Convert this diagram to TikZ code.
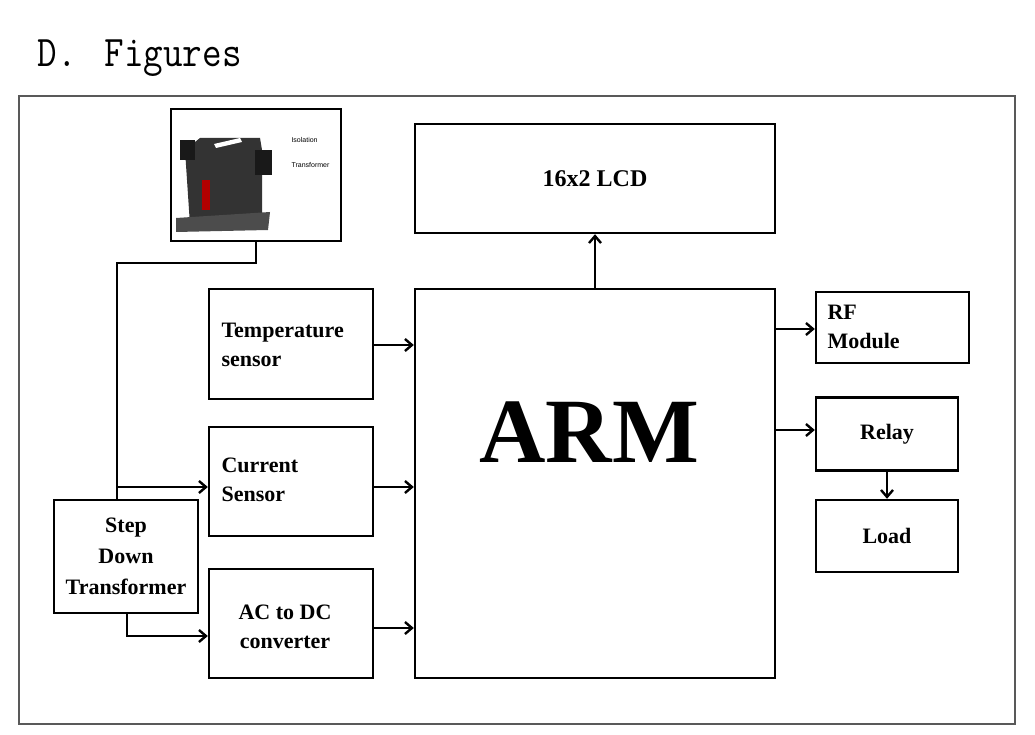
\documentclass[tikz,border=0pt]{standalone}
\usepackage{fontspec}
\setmainfont{Liberation Serif}
\newfontfamily\sansf{Liberation Sans}
\usetikzlibrary{arrows.meta}
\begin{document}
\begin{tikzpicture}[x=1pt,y=-1pt,
  blk/.style={draw,line width=2.4pt},
  lab/.style={font=\bfseries\fontsize{22}{29}\selectfont,align=left},
  arr/.style={line width=2.4pt,-{Straight Barb[length=7pt,width=12pt]}},
  wire/.style={line width=2.4pt}]
\useasboundingbox (0,0) rectangle (1035,735);
\node[anchor=west,font=\ttfamily\fontsize{38}{40}\selectfont,yscale=1.15] (title) at (34,58) {D.\hspace{28pt}Figures};
\draw[line width=1.2pt,gray!70!black] (19,96) rectangle (1015,724);
% isolation transformer picture
\draw[blk] (171,109) rectangle (341,241);
\coordinate (iso) at (256,241);
\fill[black!80] (185,150) -- (200,138) -- (260,138) -- (262,150) -- (262,225) -- (190,225) -- cycle;
\fill[black!90] (180,140) rectangle (195,160);
\fill[black!90] (255,150) rectangle (272,175);
\fill[black!70] (176,218) -- (270,212) -- (268,230) -- (176,232) -- cycle;
\fill[red!70!black] (202,180) rectangle (210,210);
\fill[white] (214,144) -- (240,138) -- (242,142) -- (216,148) -- cycle;
\node[font=\sansf\fontsize{7}{8}\selectfont,anchor=west] (isot1) at (288,140) {Isolation};
\node[font=\sansf\fontsize{7}{8}\selectfont,anchor=west] (isot2) at (288,165) {Transformer};
% blocks
\node[blk,minimum width=360pt,minimum height=109pt,font=\bfseries\fontsize{24}{28}\selectfont] (lcd) at (595,178.5) {16x2 LCD};
\node[blk,minimum width=360pt,minimum height=389pt] (arm) at (595,483.5) {};
\node[font=\bfseries\fontsize{92}{94}\selectfont] (armt) at (589,432) {ARM};
\node[blk,minimum width=164pt,minimum height=110pt] (temp) at (291,344) {};
\node[lab,anchor=west] (tempt) at (218,345) {Temperature\\sensor};
\node[blk,minimum width=164pt,minimum height=109pt] (cur) at (291,481.5) {};
\node[lab,anchor=west] (curt) at (218,480) {Current\\Sensor};
\node[blk,minimum width=164pt,minimum height=109pt] (acdc) at (291,623.5) {};
\node[lab,align=center] (acdct) at (285,627) {AC to DC\\converter};
\node[blk,minimum width=144pt,minimum height=113pt,inner sep=0pt,align=center,font=\bfseries\fontsize{22}{31}\selectfont] (step) at (126,556.5) {Step\\Down\\Transformer};
\node[blk,minimum width=153pt,minimum height=71pt] (rf) at (892.5,327.5) {};
\node[lab,anchor=west] (rft) at (824,327) {RF\\Module};
\node[blk,minimum width=142pt,minimum height=73pt,lab] (relay) at (887,434) {Relay};
\node[blk,minimum width=142pt,minimum height=72pt,lab] (load) at (887,536) {Load};
% connectors
\coordinate (c1) at (256,263);
\coordinate (c2) at (117,263);
\coordinate (c3) at (117,487);
\draw[wire] (iso) -- (c1) -- (c2) -- (117,500);
\draw[arr] (c3) -- (cur.west |- c3);
\coordinate (s1) at (127,636);
\draw[arr] (127,613) -- (s1) -- (acdc.west |- s1);
\draw[arr] (temp.east |- 0,345) -- (arm.west |- 0,345);
\draw[arr] (cur.east |- 0,487) -- (arm.west |- 0,487);
\draw[arr] (acdc.east |- 0,628) -- (arm.west |- 0,628);
\draw[arr] (arm.north) -- (lcd.south);
\draw[arr] (arm.east |- 0,329) -- (rf.west |- 0,329);
\draw[arr] (arm.east |- 0,430) -- (relay.west |- 0,430);
\draw[arr] (relay.south) -- (load.north);
\end{tikzpicture}
\end{document}
